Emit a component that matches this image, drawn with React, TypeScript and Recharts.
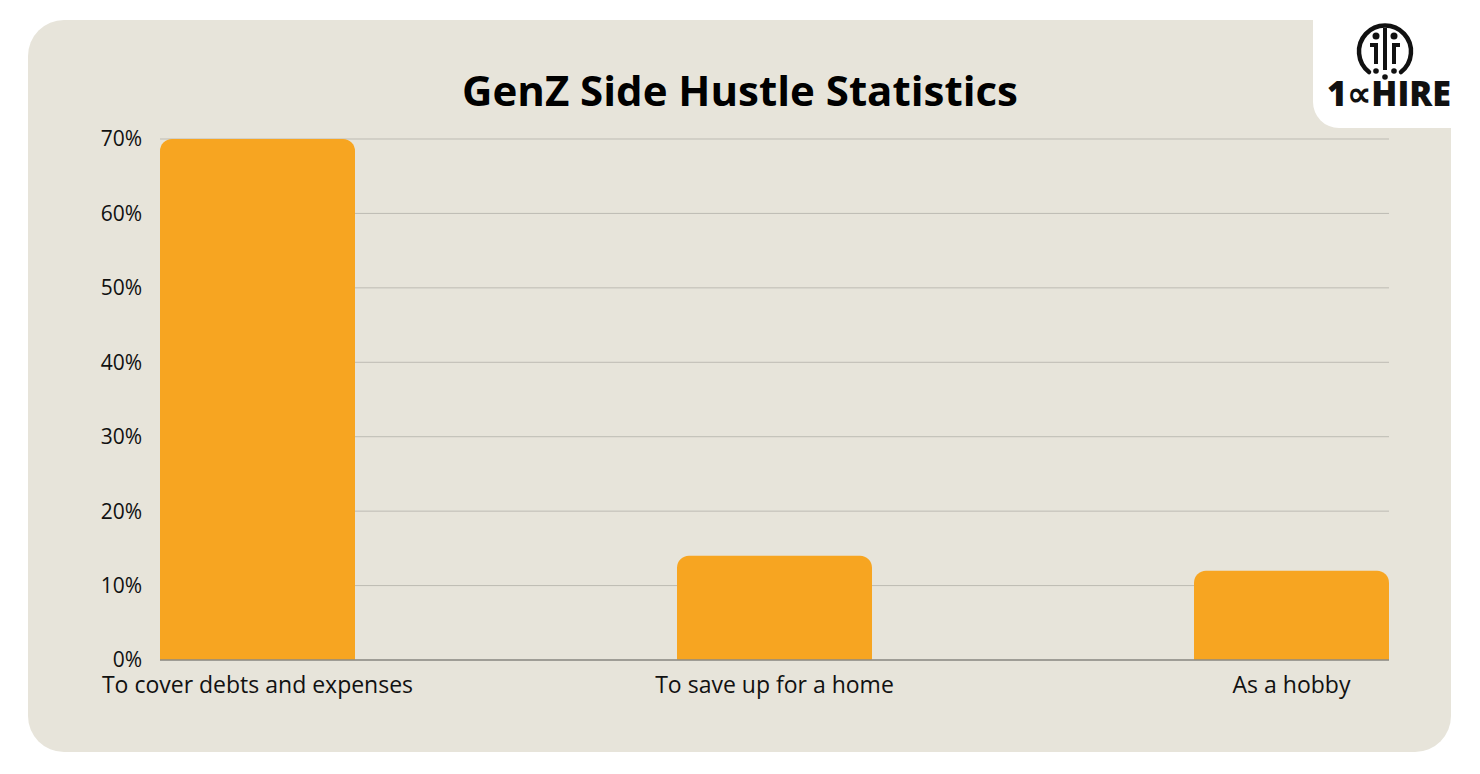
import React from "react";
import { BarChart, Bar, XAxis, YAxis, CartesianGrid } from "recharts";

const categories = ["To cover debts and expenses", "To save up for a home", "As a hobby"];
const shares = [70, 14, 12];
const yTicks = [0, 10, 20, 30, 40, 50, 60, 70];

const data = categories.map((name, i) => ({ idx: i, name, value: shares[i] }));

const FONT = "'Open Sans', 'Noto Sans', sans-serif";

function Logo() {
  return (
    <svg width={150} height={120} style={{ position: "absolute", left: 1320, top: 8 }}>
      <path d="M 49 64 A 26 26 0 1 1 81 64" fill="none" stroke="#111" strokeWidth={4.5} strokeLinecap="round" />
      <circle cx={56} cy={28} r={3.5} fill="#111" />
      <path d="M 50 37 L 56 37 L 56 56" fill="none" stroke="#111" strokeWidth={4} />
      <circle cx={56} cy={63} r={2.8} fill="#111" />
      <line x1={65} y1={20} x2={65} y2={62} stroke="#111" strokeWidth={4} />
      <circle cx={65} cy={69} r={2.8} fill="#111" />
      <circle cx={74} cy={28} r={3.5} fill="#111" />
      <path d="M 80 37 L 74 37 L 74 56" fill="none" stroke="#111" strokeWidth={4} />
      <circle cx={74} cy={63} r={2.8} fill="#111" />
      <text x={69} y={98} textAnchor="middle" fontFamily={FONT} fontWeight={800} fontSize={35} fill="#111" textLength={124} lengthAdjust="spacingAndGlyphs">1∝HIRE</text>
    </svg>
  );
}

export default function App() {
  return (
    <div style={{ position: "fixed", left: 0, top: 0, width: 1480, height: 774, background: "#ffffff", overflow: "hidden" }}>
      <div style={{ position: "absolute", left: 28, top: 20, width: 1423, height: 732, background: "#E7E4DA", borderRadius: 36 }} />
      <div style={{ position: "absolute", left: 1313, top: 0, width: 200, height: 128, background: "#ffffff", borderBottomLeftRadius: 26 }} />
      <Logo />
      <div style={{ position: "absolute", left: 0, top: 62, width: 1480, textAlign: "center", fontFamily: FONT, fontWeight: 700, fontSize: 42, color: "#000", lineHeight: "56px" }}>
        GenZ Side Hustle Statistics
      </div>
      <div style={{ position: "absolute", left: 0, top: 0 }}>
        <BarChart width={1480} height={774} data={data} margin={{ top: 139, right: 91, bottom: 84, left: 100 }}>
          <CartesianGrid vertical={false} stroke="#BDBBB3" strokeWidth={1} />
          <XAxis
            dataKey="idx"
            type="number"
            domain={[0, 2]}
            ticks={[0, 1, 2]}
            padding={{ left: 97.5, right: 97.5 }}
            tickFormatter={(v: number) => categories[v]}
            height={30}
            tickLine={false}
            tickSize={0}
            tickMargin={17}
            axisLine={{ stroke: "#8E8C86", strokeWidth: 1.5 }}
            tick={{ fill: "#111", fontSize: 23, fontFamily: FONT }}
            interval={0}
          />
          <YAxis
            type="number"
            domain={[0, 70]}
            ticks={yTicks}
            tickFormatter={(v: number) => `${v}%`}
            width={60}
            axisLine={false}
            tickLine={false}
            tickSize={0}
            tickMargin={18}
            tick={{ fill: "#111", fontSize: 21, fontFamily: FONT }}
          />
          <Bar dataKey="value" fill="#F7A521" barSize={195} radius={[12, 12, 0, 0]} isAnimationActive={false} />
        </BarChart>
      </div>
    </div>
  );
}
